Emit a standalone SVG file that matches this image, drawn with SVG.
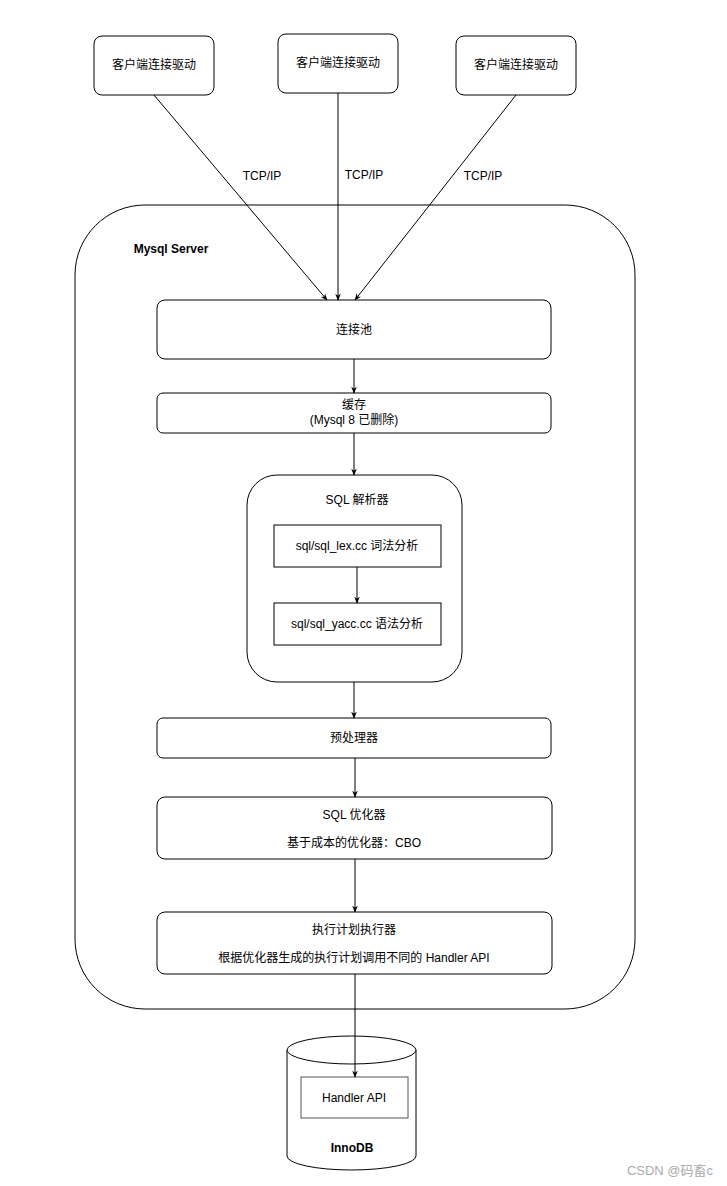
<svg xmlns="http://www.w3.org/2000/svg" width="727" height="1186" viewBox="0 0 727 1186">
<style>
text{font-family:"Liberation Sans",Arial,"Noto Sans CJK SC",sans-serif;font-size:12px;fill:#000;text-anchor:middle}
.n{fill:#fff;stroke:#000;stroke-width:1}
.c{stroke:#000;stroke-width:1;fill:none;marker-end:url(#a)}
.b{font-weight:bold}
</style>
<defs><marker id="a" viewBox="0 0 10 10" refX="9" refY="5" markerWidth="7" markerHeight="7" orient="auto"><path d="M0,1 L10,5 L0,9 L3,5 Z" fill="#000"/></marker></defs>
<rect width="727" height="1186" fill="#fff"/>
<g id="server"><rect class="n" x="75" y="205" width="560" height="804" rx="70"/><text class="b" x="171" y="253" font-size="14">Mysql Server</text></g>
<g id="client1"><rect class="n" x="94" y="36" width="120" height="59" rx="8"/><text x="154" y="69">客户端连接驱动</text></g>
<g id="client2"><rect class="n" x="278" y="34" width="120" height="59" rx="8"/><text x="338" y="67">客户端连接驱动</text></g>
<g id="client3"><rect class="n" x="456" y="36" width="120" height="59" rx="8"/><text x="516" y="69">客户端连接驱动</text></g>
<g id="pool"><rect class="n" x="157" y="300" width="394" height="59" rx="8"/><text x="354" y="334">连接池</text></g>
<g id="cache"><rect class="n" x="157" y="393" width="394" height="40" rx="6"/><text x="354" y="409">缓存</text><text x="354" y="424">(Mysql 8 已删除)</text></g>
<g id="parser"><rect class="n" x="247" y="475" width="215" height="207" rx="30"/><text x="357" y="504">SQL 解析器</text></g>
<g id="lex"><rect class="n" x="274" y="525" width="167" height="42"/><text x="357" y="550">sql/sql_lex.cc 词法分析</text></g>
<g id="yacc"><rect class="n" x="274" y="603" width="167" height="42"/><text x="357" y="628">sql/sql_yacc.cc 语法分析</text></g>
<g id="pre"><rect class="n" x="157" y="718" width="394" height="40" rx="6"/><text x="354" y="742">预处理器</text></g>
<g id="opt"><rect class="n" x="157" y="797" width="395" height="62" rx="8"/><text x="354" y="819">SQL 优化器</text><text x="354" y="847">基于成本的优化器：CBO</text></g>
<g id="exec"><rect class="n" x="157" y="912" width="395" height="62" rx="8"/><text x="354" y="934">执行计划执行器</text><text x="354" y="962">根据优化器生成的执行计划调用不同的 Handler API</text></g>
<g id="innodb"><path class="n" d="M287,1050 L287,1156 A64.5,14 0 0 0 416,1156 L416,1050"/><ellipse class="n" cx="351.5" cy="1050" rx="64.5" ry="14"/><text class="b" x="352" y="1152">InnoDB</text></g>
<g id="handler"><rect x="301" y="1077" width="107" height="41" fill="#fff" stroke="#555"/><text x="354" y="1102">Handler API</text></g>
<g id="connectors">
<path class="c" d="M154,95 L327,300"/>
<path class="c" d="M338,93 L338,300"/>
<path class="c" d="M516,95 L355,300"/>
<path class="c" d="M354,359 L354,393"/>
<path class="c" d="M354,433 L354,475"/>
<path class="c" d="M357,567 L357,603"/>
<path class="c" d="M354,682 L354,718"/>
<path class="c" d="M355,758 L355,797"/>
<path class="c" d="M355,859 L355,912"/>
<path class="c" d="M355,974 L355,1077"/>
<text x="262" y="180">TCP/IP</text><text x="364" y="179">TCP/IP</text><text x="483" y="180">TCP/IP</text>
</g>
<text x="670" y="1175" style="fill:#aaa;font-size:13px">CSDN @码畜c</text>
</svg>
